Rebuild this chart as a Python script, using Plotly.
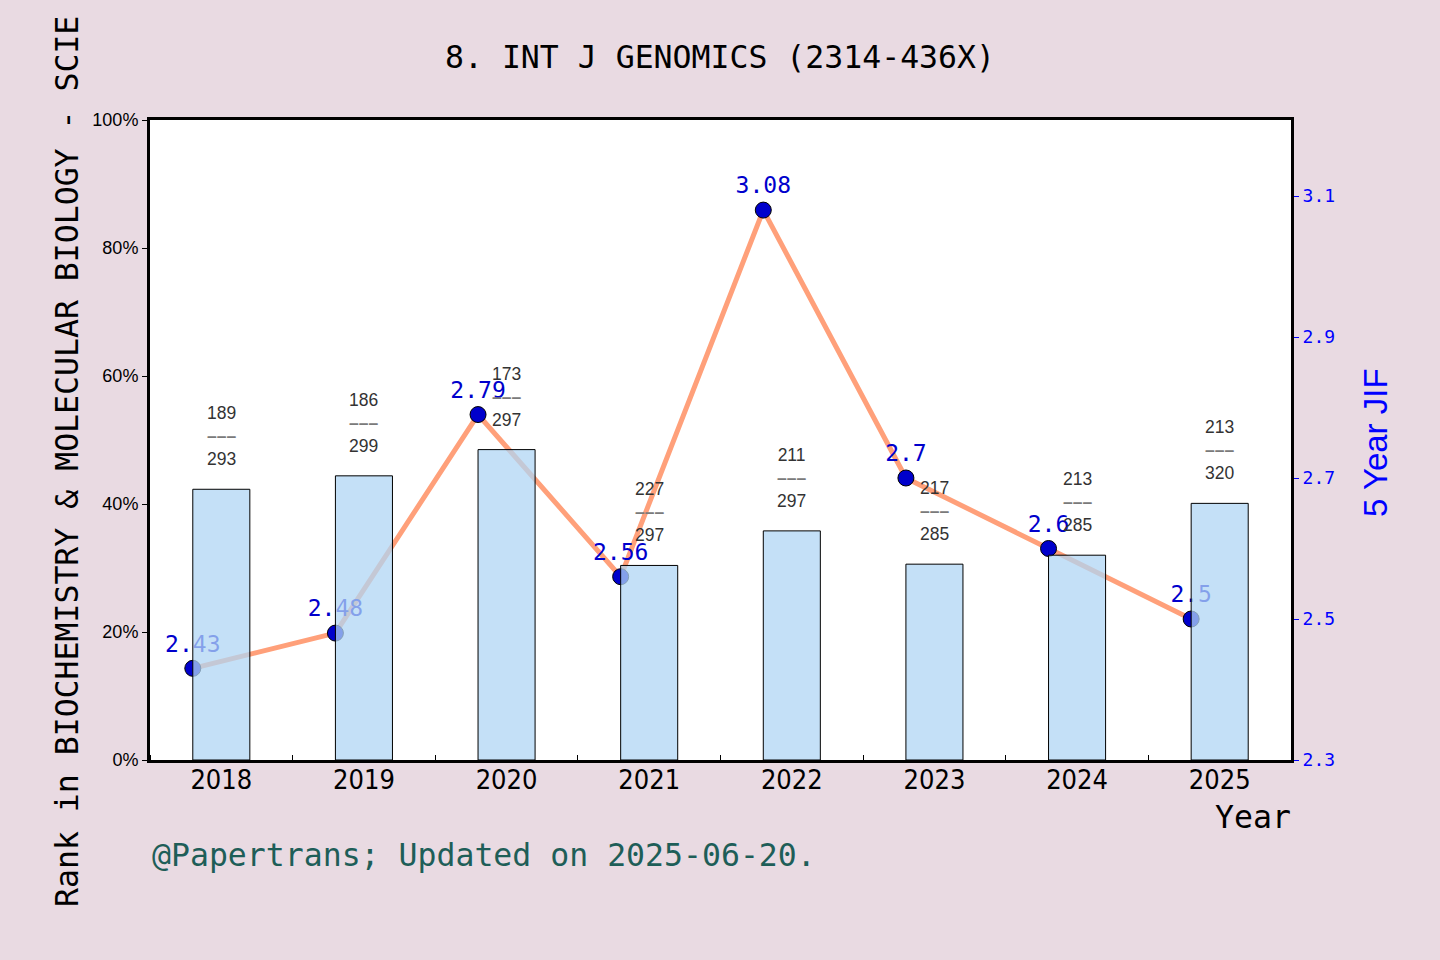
import plotly.graph_objects as go

years = ["2018", "2019", "2020", "2021", "2022", "2023", "2024", "2025"]
bar_pct = [0.423, 0.444, 0.485, 0.304, 0.358, 0.306, 0.320, 0.401]
ranks = [189, 186, 173, 227, 211, 217, 213, 213]
totals = [293, 299, 297, 297, 297, 285, 285, 320]
jif5 = [2.43, 2.48, 2.79, 2.56, 3.08, 2.70, 2.60, 2.50]
jif_ticks = [2.3, 2.5, 2.7, 2.9, 3.1]

MONO = "DejaVu Sans Mono, Liberation Mono, monospace"
SANS = "Liberation Sans, Arial, sans-serif"
NARROW = "Liberation Sans Narrow, DejaVu Sans Condensed, Liberation Sans, sans-serif"

X0, W, YB, H = 150, 1141, 760, 640
BAR_W = 0.4
xi = list(range(len(years)))
xc = [i + BAR_W / 2 for i in xi]   # bar centres (bars start at the line's x)


def px(X):
    return (X - X0) / W


def py(Y):
    return (YB - Y) / H


fig = go.Figure()

# line trace (primary axis, right side) - drawn under bars
fig.add_trace(go.Scatter(
    x=xi, y=jif5, yaxis="y",
    mode="lines+markers+text",
    line=dict(color="#FFA07A", width=5),
    marker=dict(size=16, color="#0000CC", line=dict(color="black", width=1)),
    text=[f"{v:g}" for v in jif5],
    textposition="top center",
    textfont=dict(family=MONO, size=23, color="#0000CC"),
    showlegend=False, cliponaxis=False,
))

# bar trace on overlay axis (left side) - drawn on top, semi-transparent
fig.add_trace(go.Bar(
    x=xi, y=bar_pct, yaxis="y2",
    width=BAR_W, offset=0,
    marker=dict(color="rgba(176,213,244,0.75)", line=dict(color="black", width=1)),
    showlegend=False,
))

annotations = []
for c, b, r, t in zip(xc, bar_pct, ranks, totals):
    annotations.append(dict(
        x=c, y=b, xref="x", yref="y2",
        text=f"{r}<br><b><span style='color:#7a7a7a'>–––</span></b><br>{t}",
        showarrow=False, yshift=53, yanchor="middle", xanchor="center",
        font=dict(family=SANS, size=17.5, color="#333333"),
    ))

annotations += [
    dict(x=px(720), y=py(57), xref="paper", yref="paper",
         xanchor="center", yanchor="middle",
         text="8. INT J GENOMICS (2314-436X)", showarrow=False,
         font=dict(family=MONO, size=31.5, color="black")),
    dict(x=px(67), y=py(462), xref="paper", yref="paper", textangle=-90,
         xanchor="center", yanchor="middle",
         text="Rank in BIOCHEMISTRY & MOLECULAR BIOLOGY - SCIE", showarrow=False,
         font=dict(family=MONO, size=31.5, color="black")),
    dict(x=px(1375), y=py(443), xref="paper", yref="paper", textangle=-90,
         xanchor="center", yanchor="middle",
         text="5 Year JIF", showarrow=False,
         font=dict(family=SANS, size=33, color="#0000FF")),
    dict(x=px(1253), y=py(817), xref="paper", yref="paper",
         xanchor="center", yanchor="middle",
         text="Year", showarrow=False,
         font=dict(family=MONO, size=31.5, color="black")),
    dict(x=px(150), y=py(855), xref="paper", yref="paper",
         xanchor="left", yanchor="middle",
         text="@Papertrans; Updated on 2025-06-20.", showarrow=False,
         font=dict(family=MONO, size=31.5, color="#1E5E58")),
]

fig.update_layout(
    width=1440, height=960,
    margin=dict(l=150, r=149, t=120, b=200),
    paper_bgcolor="#E9DAE2",
    plot_bgcolor="white",
    showlegend=False,
    annotations=annotations,
    xaxis=dict(
        range=[-0.3, len(years) - 0.3], tickvals=xc, ticktext=years,
        showline=True, linecolor="black", linewidth=3, mirror=True,
        ticks="", tickangle=0, ticklabelstandoff=-6,
        minor=dict(tick0=0.7, dtick=1, ticks="inside", ticklen=5, tickcolor="black"),
        tickfont=dict(family=NARROW, size=27, color="black"),
        showgrid=False, zeroline=False,
    ),
    yaxis=dict(
        side="right", range=[2.3, 3.2078], tickvals=jif_ticks,
        ticks="outside", ticklen=5, tickcolor="#0000FF",
        tickfont=dict(family=MONO, size=18, color="#0000FF"),
        showline=True, linecolor="black", linewidth=3,
        showgrid=False, zeroline=False,
    ),
    yaxis2=dict(
        overlaying="y", side="left", range=[0, 1], dtick=0.2, tickformat=".0%",
        ticks="outside", ticklen=5, tickcolor="black",
        tickfont=dict(family=SANS, size=18, color="black"),
        showline=True, linecolor="black", linewidth=3,
        showgrid=False, zeroline=False,
    ),
)

fig.write_html("out.html")
